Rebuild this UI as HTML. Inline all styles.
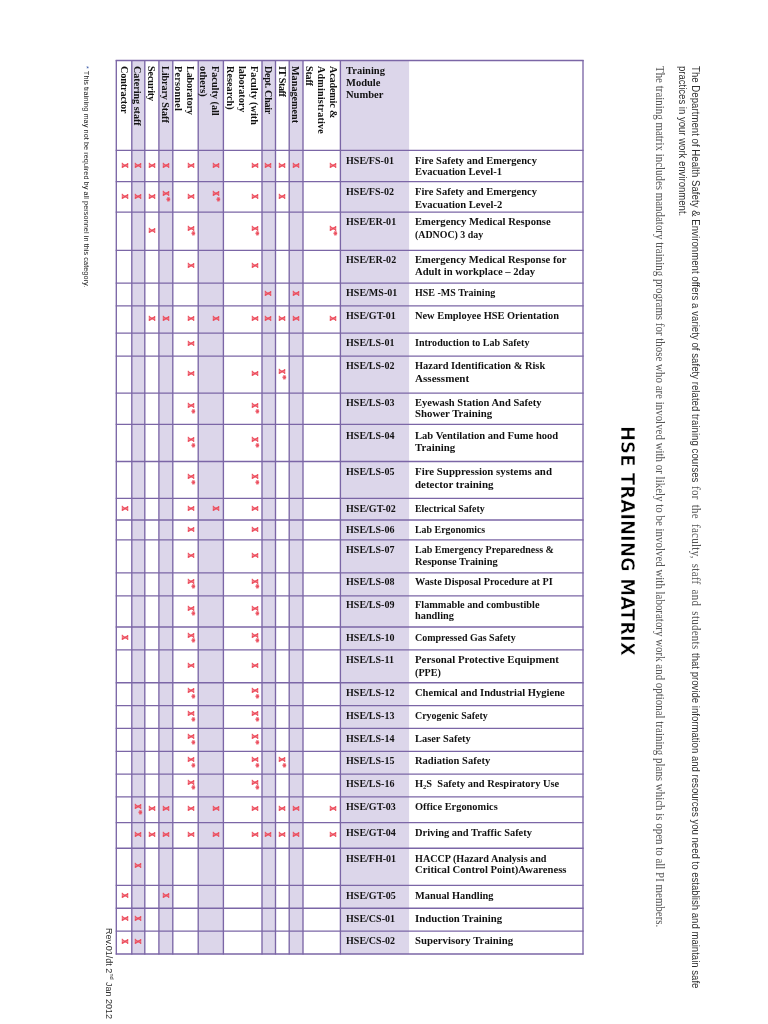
<!DOCTYPE html>
<html lang="en"><head><meta charset="utf-8"><title>HSE Training Matrix</title>
<style>
html,body{margin:0;padding:0;background:#fff}
body{width:768px;height:1024px;position:relative;overflow:hidden;font-family:"Liberation Serif",serif;color:#111}
svg.grid{position:absolute;left:0;top:0}
.v{position:absolute;writing-mode:vertical-rl;white-space:nowrap}
.hd{font-weight:bold;font-size:10.2px;line-height:11.5px;transform:scaleX(1.06);transform-origin:100% 50%;text-align:left}
.t{position:absolute;white-space:nowrap;font-weight:bold;font-size:9.7px;line-height:12px;height:12px;transform:scaleX(1.085);transform-origin:0 50%}
.t.c{transform:scaleX(1.035)}
.t sub{font-size:6px;line-height:0;vertical-align:-1.5px}
.mk{position:absolute;writing-mode:vertical-rl;white-space:nowrap;text-align:center;font-weight:bold;font-size:10px;line-height:12px;width:12px;color:#ec4c5c;-webkit-text-stroke:0.35px #ec4c5c;transform:scaleX(1.34);transform-origin:50% 50%}
.mk i{font-style:normal;font-size:9.5px;margin-top:0.6px;display:inline-block;transform:scaleX(0.72)}
.sans{font-family:"Liberation Sans",sans-serif}
.p{color:#2e2e2e;transform-origin:50% 50%;transform:scaleX(1.08)}
.ps{color:#555}
#page{position:absolute;left:0;top:0;width:768px;height:1024px;will-change:transform}
</style></head><body><div id="page">
<svg class="grid" width="768" height="1024" viewBox="0 0 768 1024">
<rect x="131.8" y="60.5" width="13.00" height="893.50" fill="#dcd6ea"/>
<rect x="158.9" y="60.5" width="13.90" height="893.50" fill="#dcd6ea"/>
<rect x="198.2" y="60.5" width="25.20" height="893.50" fill="#dcd6ea"/>
<rect x="262.0" y="60.5" width="13.50" height="893.50" fill="#dcd6ea"/>
<rect x="289.2" y="60.5" width="13.80" height="893.50" fill="#dcd6ea"/>
<rect x="340.4" y="60.5" width="68.70" height="893.50" fill="#dcd6ea"/>
<g stroke="#7b66a6" stroke-width="1.35" fill="none">
<line x1="116.3" y1="59.9" x2="116.3" y2="954.6"/>
<line x1="131.8" y1="59.9" x2="131.8" y2="954.6"/>
<line x1="144.8" y1="59.9" x2="144.8" y2="954.6"/>
<line x1="158.9" y1="59.9" x2="158.9" y2="954.6"/>
<line x1="172.8" y1="59.9" x2="172.8" y2="954.6"/>
<line x1="198.2" y1="59.9" x2="198.2" y2="954.6"/>
<line x1="223.4" y1="59.9" x2="223.4" y2="954.6"/>
<line x1="262.0" y1="59.9" x2="262.0" y2="954.6"/>
<line x1="275.5" y1="59.9" x2="275.5" y2="954.6"/>
<line x1="289.2" y1="59.9" x2="289.2" y2="954.6"/>
<line x1="303.0" y1="59.9" x2="303.0" y2="954.6"/>
<line x1="340.4" y1="59.9" x2="340.4" y2="954.6"/>
<line x1="583.0" y1="59.9" x2="583.0" y2="954.6"/>
<line x1="115.7" y1="60.5" x2="583.6" y2="60.5"/>
<line x1="115.7" y1="150.3" x2="583.6" y2="150.3"/>
<line x1="115.7" y1="181.6" x2="583.6" y2="181.6"/>
<line x1="115.7" y1="212.1" x2="583.6" y2="212.1"/>
<line x1="115.7" y1="250.4" x2="583.6" y2="250.4"/>
<line x1="115.7" y1="283.1" x2="583.6" y2="283.1"/>
<line x1="115.7" y1="305.9" x2="583.6" y2="305.9"/>
<line x1="115.7" y1="333.1" x2="583.6" y2="333.1"/>
<line x1="115.7" y1="356.1" x2="583.6" y2="356.1"/>
<line x1="115.7" y1="393.1" x2="583.6" y2="393.1"/>
<line x1="115.7" y1="424.4" x2="583.6" y2="424.4"/>
<line x1="115.7" y1="461.5" x2="583.6" y2="461.5"/>
<line x1="115.7" y1="498.4" x2="583.6" y2="498.4"/>
<line x1="115.7" y1="520.0" x2="583.6" y2="520.0"/>
<line x1="115.7" y1="539.9" x2="583.6" y2="539.9"/>
<line x1="115.7" y1="572.9" x2="583.6" y2="572.9"/>
<line x1="115.7" y1="595.9" x2="583.6" y2="595.9"/>
<line x1="115.7" y1="627.0" x2="583.6" y2="627.0"/>
<line x1="115.7" y1="649.9" x2="583.6" y2="649.9"/>
<line x1="115.7" y1="682.7" x2="583.6" y2="682.7"/>
<line x1="115.7" y1="705.6" x2="583.6" y2="705.6"/>
<line x1="115.7" y1="728.4" x2="583.6" y2="728.4"/>
<line x1="115.7" y1="751.3" x2="583.6" y2="751.3"/>
<line x1="115.7" y1="774.1" x2="583.6" y2="774.1"/>
<line x1="115.7" y1="796.9" x2="583.6" y2="796.9"/>
<line x1="115.7" y1="822.6" x2="583.6" y2="822.6"/>
<line x1="115.7" y1="848.2" x2="583.6" y2="848.2"/>
<line x1="115.7" y1="885.4" x2="583.6" y2="885.4"/>
<line x1="115.7" y1="908.2" x2="583.6" y2="908.2"/>
<line x1="115.7" y1="931.1" x2="583.6" y2="931.1"/>
<line x1="115.7" y1="954.0" x2="583.6" y2="954.0"/>
</g></svg>
<div class="v hd" style="right:637.30px;top:65.60px"><span style="display:block;letter-spacing:-0.116px">Contractor</span></div>
<div class="v hd" style="right:624.30px;top:65.60px"><span style="display:block;letter-spacing:-0.040px">Catering staff</span></div>
<div class="v hd" style="right:610.20px;top:65.60px"><span style="display:block;letter-spacing:-0.152px">Security</span></div>
<div class="v hd" style="right:596.30px;top:65.60px"><span style="display:block;letter-spacing:-0.101px">Library Staff</span></div>
<div class="v hd" style="right:570.90px;top:65.60px"><span style="display:block;letter-spacing:-0.167px">Laboratory</span><span style="display:block;letter-spacing:0.220px">Personnel</span></div>
<div class="v hd" style="right:545.70px;top:65.60px"><span style="display:block;letter-spacing:0.015px">Faculty (all</span><span style="display:block;letter-spacing:0.034px">others)</span></div>
<div class="v hd" style="right:507.10px;top:65.60px"><span style="display:block;letter-spacing:0.076px">Faculty (with</span><span style="display:block;letter-spacing:-0.001px">laboratory</span><span style="display:block;letter-spacing:0.034px">Research)</span></div>
<div class="v hd" style="right:493.60px;top:65.60px"><span style="display:block;letter-spacing:-0.318px">Dept. Chair</span></div>
<div class="v hd" style="right:479.90px;top:65.60px"><span style="display:block;letter-spacing:-0.445px">IT Staff</span></div>
<div class="v hd" style="right:466.10px;top:65.60px"><span style="display:block;letter-spacing:0.004px">Management</span></div>
<div class="v hd" style="right:428.70px;top:65.60px"><span style="display:block;letter-spacing:-0.185px">Academic &amp;</span><span style="display:block;letter-spacing:0.167px">Administrative</span><span style="display:block;letter-spacing:-0.248px">Staff</span></div>
<div class="t" style="left:345.8px;top:64.90px">Training</div>
<div class="t" style="left:345.8px;top:76.90px">Module</div>
<div class="t" style="left:345.8px;top:88.90px">Number</div>
<div class="t c" style="left:345.6px;top:154.90px">HSE/FS-01</div>
<div class="t" style="left:414.9px;top:154.90px;transform:scaleX(1.0834)">Fire Safety and Emergency</div>
<div class="t" style="left:414.9px;top:165.90px;transform:scaleX(1.0879)">Evacuation Level-1</div>
<div class="mk" style="left:119.50px;top:149.50px;height:31.30px">x</div>
<div class="mk" style="left:132.50px;top:149.50px;height:31.30px">x</div>
<div class="mk" style="left:146.60px;top:149.50px;height:31.30px">x</div>
<div class="mk" style="left:160.50px;top:149.50px;height:31.30px">x</div>
<div class="mk" style="left:185.90px;top:149.50px;height:31.30px">x</div>
<div class="mk" style="left:211.10px;top:149.50px;height:31.30px">x</div>
<div class="mk" style="left:249.70px;top:149.50px;height:31.30px">x</div>
<div class="mk" style="left:263.20px;top:149.50px;height:31.30px">x</div>
<div class="mk" style="left:276.90px;top:149.50px;height:31.30px">x</div>
<div class="mk" style="left:290.70px;top:149.50px;height:31.30px">x</div>
<div class="mk" style="left:328.10px;top:149.50px;height:31.30px">x</div>
<div class="t c" style="left:345.6px;top:185.90px">HSE/FS-02</div>
<div class="t" style="left:414.9px;top:185.90px;transform:scaleX(1.0834)">Fire Safety and Emergency</div>
<div class="t" style="left:414.9px;top:198.90px;transform:scaleX(1.0911)">Evacuation Level-2</div>
<div class="mk" style="left:119.50px;top:180.80px;height:30.50px">x</div>
<div class="mk" style="left:132.50px;top:180.80px;height:30.50px">x</div>
<div class="mk" style="left:146.60px;top:180.80px;height:30.50px">x</div>
<div class="mk" style="left:160.50px;top:181.10px;height:30.50px">x<i>*</i></div>
<div class="mk" style="left:185.90px;top:180.80px;height:30.50px">x</div>
<div class="mk" style="left:211.10px;top:181.10px;height:30.50px">x<i>*</i></div>
<div class="mk" style="left:249.70px;top:180.80px;height:30.50px">x</div>
<div class="mk" style="left:276.90px;top:180.80px;height:30.50px">x</div>
<div class="t c" style="left:345.6px;top:215.90px">HSE/ER-01</div>
<div class="t" style="left:414.9px;top:215.90px;transform:scaleX(1.0964)">Emergency Medical Response</div>
<div class="t" style="left:414.9px;top:228.90px;transform:scaleX(1.0220)">(ADNOC) 3 day</div>
<div class="mk" style="left:146.60px;top:211.30px;height:38.30px">x</div>
<div class="mk" style="left:185.90px;top:211.60px;height:38.30px">x<i>*</i></div>
<div class="mk" style="left:249.70px;top:211.60px;height:38.30px">x<i>*</i></div>
<div class="mk" style="left:328.10px;top:211.60px;height:38.30px">x<i>*</i></div>
<div class="t c" style="left:345.6px;top:253.90px">HSE/ER-02</div>
<div class="t" style="left:414.9px;top:253.90px;transform:scaleX(1.0930)">Emergency Medical Response for</div>
<div class="t" style="left:414.9px;top:265.90px;transform:scaleX(1.0999)">Adult in workplace – 2day</div>
<div class="mk" style="left:185.90px;top:249.60px;height:32.70px">x</div>
<div class="mk" style="left:249.70px;top:249.60px;height:32.70px">x</div>
<div class="t c" style="left:345.6px;top:286.90px">HSE/MS-01</div>
<div class="t" style="left:414.9px;top:286.90px;transform:scaleX(1.0321)">HSE -MS Training</div>
<div class="mk" style="left:263.20px;top:282.30px;height:22.80px">x</div>
<div class="mk" style="left:290.70px;top:282.30px;height:22.80px">x</div>
<div class="t c" style="left:345.6px;top:309.90px">HSE/GT-01</div>
<div class="t" style="left:414.9px;top:309.90px;transform:scaleX(1.0720)">New Employee HSE Orientation</div>
<div class="mk" style="left:146.60px;top:305.10px;height:27.20px">x</div>
<div class="mk" style="left:160.50px;top:305.10px;height:27.20px">x</div>
<div class="mk" style="left:185.90px;top:305.10px;height:27.20px">x</div>
<div class="mk" style="left:211.10px;top:305.10px;height:27.20px">x</div>
<div class="mk" style="left:249.70px;top:305.10px;height:27.20px">x</div>
<div class="mk" style="left:263.20px;top:305.10px;height:27.20px">x</div>
<div class="mk" style="left:276.90px;top:305.10px;height:27.20px">x</div>
<div class="mk" style="left:290.70px;top:305.10px;height:27.20px">x</div>
<div class="mk" style="left:328.10px;top:305.10px;height:27.20px">x</div>
<div class="t c" style="left:345.6px;top:336.90px">HSE/LS-01</div>
<div class="t" style="left:414.9px;top:336.90px;transform:scaleX(1.0363)">Introduction to Lab Safety</div>
<div class="mk" style="left:185.90px;top:332.30px;height:23.00px">x</div>
<div class="t c" style="left:345.6px;top:359.90px">HSE/LS-02</div>
<div class="t" style="left:414.9px;top:359.90px;transform:scaleX(1.0727)">Hazard Identification &amp; Risk</div>
<div class="t" style="left:414.9px;top:372.90px;transform:scaleX(1.1444)">Assessment</div>
<div class="mk" style="left:185.90px;top:355.30px;height:37.00px">x</div>
<div class="mk" style="left:249.70px;top:355.30px;height:37.00px">x</div>
<div class="mk" style="left:276.90px;top:355.60px;height:37.00px">x<i>*</i></div>
<div class="t c" style="left:345.6px;top:396.90px">HSE/LS-03</div>
<div class="t" style="left:414.9px;top:396.90px;transform:scaleX(1.0850)">Eyewash Station And Safety</div>
<div class="t" style="left:414.9px;top:407.90px;transform:scaleX(1.1158)">Shower Training</div>
<div class="mk" style="left:185.90px;top:392.60px;height:31.30px">x<i>*</i></div>
<div class="mk" style="left:249.70px;top:392.60px;height:31.30px">x<i>*</i></div>
<div class="t c" style="left:345.6px;top:429.90px">HSE/LS-04</div>
<div class="t" style="left:414.9px;top:429.90px;transform:scaleX(1.0901)">Lab Ventilation and Fume hood</div>
<div class="t" style="left:414.9px;top:441.90px;transform:scaleX(1.1201)">Training</div>
<div class="mk" style="left:185.90px;top:423.90px;height:37.10px">x<i>*</i></div>
<div class="mk" style="left:249.70px;top:423.90px;height:37.10px">x<i>*</i></div>
<div class="t c" style="left:345.6px;top:465.90px">HSE/LS-05</div>
<div class="t" style="left:414.9px;top:465.90px;transform:scaleX(1.1215)">Fire Suppression systems and</div>
<div class="t" style="left:414.9px;top:478.90px;transform:scaleX(1.1285)">detector training</div>
<div class="mk" style="left:185.90px;top:461.00px;height:36.90px">x<i>*</i></div>
<div class="mk" style="left:249.70px;top:461.00px;height:36.90px">x<i>*</i></div>
<div class="t c" style="left:345.6px;top:502.90px">HSE/GT-02</div>
<div class="t" style="left:414.9px;top:502.90px;transform:scaleX(1.0241)">Electrical Safety</div>
<div class="mk" style="left:119.50px;top:497.60px;height:21.60px">x</div>
<div class="mk" style="left:185.90px;top:497.60px;height:21.60px">x</div>
<div class="mk" style="left:211.10px;top:497.60px;height:21.60px">x</div>
<div class="mk" style="left:249.70px;top:497.60px;height:21.60px">x</div>
<div class="t c" style="left:345.6px;top:523.90px">HSE/LS-06</div>
<div class="t" style="left:414.9px;top:523.90px;transform:scaleX(1.0227)">Lab Ergonomics</div>
<div class="mk" style="left:185.90px;top:519.20px;height:19.90px">x</div>
<div class="mk" style="left:249.70px;top:519.20px;height:19.90px">x</div>
<div class="t c" style="left:345.6px;top:543.90px">HSE/LS-07</div>
<div class="t" style="left:414.9px;top:543.90px;transform:scaleX(1.0334)">Lab Emergency Preparedness &amp;</div>
<div class="t" style="left:414.9px;top:555.90px;transform:scaleX(1.0756)">Response Training</div>
<div class="mk" style="left:185.90px;top:539.10px;height:33.00px">x</div>
<div class="mk" style="left:249.70px;top:539.10px;height:33.00px">x</div>
<div class="t c" style="left:345.6px;top:575.90px">HSE/LS-08</div>
<div class="t" style="left:414.9px;top:575.90px;transform:scaleX(1.0558)">Waste Disposal Procedure at PI</div>
<div class="mk" style="left:185.90px;top:572.40px;height:23.00px">x<i>*</i></div>
<div class="mk" style="left:249.70px;top:572.40px;height:23.00px">x<i>*</i></div>
<div class="t c" style="left:345.6px;top:598.90px">HSE/LS-09</div>
<div class="t" style="left:414.9px;top:598.90px;transform:scaleX(1.0606)">Flammable and combustible</div>
<div class="t" style="left:414.9px;top:609.90px;transform:scaleX(1.0635)">handling</div>
<div class="mk" style="left:185.90px;top:595.40px;height:31.10px">x<i>*</i></div>
<div class="mk" style="left:249.70px;top:595.40px;height:31.10px">x<i>*</i></div>
<div class="t c" style="left:345.6px;top:631.90px">HSE/LS-10</div>
<div class="t" style="left:414.9px;top:631.90px;transform:scaleX(1.0298)">Compressed Gas Safety</div>
<div class="mk" style="left:119.50px;top:626.20px;height:22.90px">x</div>
<div class="mk" style="left:185.90px;top:626.50px;height:22.90px">x<i>*</i></div>
<div class="mk" style="left:249.70px;top:626.50px;height:22.90px">x<i>*</i></div>
<div class="t c" style="left:345.6px;top:653.90px">HSE/LS-11</div>
<div class="t" style="left:414.9px;top:653.90px;transform:scaleX(1.1160)">Personal Protective Equipment</div>
<div class="t" style="left:414.9px;top:666.90px;transform:scaleX(1.0485)">(PPE)</div>
<div class="mk" style="left:185.90px;top:649.10px;height:32.80px">x</div>
<div class="mk" style="left:249.70px;top:649.10px;height:32.80px">x</div>
<div class="t c" style="left:345.6px;top:686.90px">HSE/LS-12</div>
<div class="t" style="left:414.9px;top:686.90px;transform:scaleX(1.0885)">Chemical and Industrial Hygiene</div>
<div class="mk" style="left:185.90px;top:682.20px;height:22.90px">x<i>*</i></div>
<div class="mk" style="left:249.70px;top:682.20px;height:22.90px">x<i>*</i></div>
<div class="t c" style="left:345.6px;top:709.90px">HSE/LS-13</div>
<div class="t" style="left:414.9px;top:709.90px;transform:scaleX(1.0273)">Cryogenic Safety</div>
<div class="mk" style="left:185.90px;top:705.10px;height:22.80px">x<i>*</i></div>
<div class="mk" style="left:249.70px;top:705.10px;height:22.80px">x<i>*</i></div>
<div class="t c" style="left:345.6px;top:732.90px">HSE/LS-14</div>
<div class="t" style="left:414.9px;top:732.90px;transform:scaleX(1.0763)">Laser Safety</div>
<div class="mk" style="left:185.90px;top:727.90px;height:22.90px">x<i>*</i></div>
<div class="mk" style="left:249.70px;top:727.90px;height:22.90px">x<i>*</i></div>
<div class="t c" style="left:345.6px;top:754.90px">HSE/LS-15</div>
<div class="t" style="left:414.9px;top:754.90px;transform:scaleX(1.0871)">Radiation Safety</div>
<div class="mk" style="left:185.90px;top:750.80px;height:22.80px">x<i>*</i></div>
<div class="mk" style="left:249.70px;top:750.80px;height:22.80px">x<i>*</i></div>
<div class="mk" style="left:276.90px;top:750.80px;height:22.80px">x<i>*</i></div>
<div class="t c" style="left:345.6px;top:777.90px">HSE/LS-16</div>
<div class="t" style="left:414.9px;top:777.90px;transform:scaleX(1.0756)">H<sub>2</sub>S&nbsp; Safety and Respiratory Use</div>
<div class="mk" style="left:185.90px;top:773.60px;height:22.80px">x<i>*</i></div>
<div class="mk" style="left:249.70px;top:773.60px;height:22.80px">x<i>*</i></div>
<div class="t c" style="left:345.6px;top:800.90px">HSE/GT-03</div>
<div class="t" style="left:414.9px;top:800.90px;transform:scaleX(1.0710)">Office Ergonomics</div>
<div class="mk" style="left:132.50px;top:796.40px;height:25.70px">x<i>*</i></div>
<div class="mk" style="left:146.60px;top:796.10px;height:25.70px">x</div>
<div class="mk" style="left:160.50px;top:796.10px;height:25.70px">x</div>
<div class="mk" style="left:185.90px;top:796.10px;height:25.70px">x</div>
<div class="mk" style="left:211.10px;top:796.10px;height:25.70px">x</div>
<div class="mk" style="left:249.70px;top:796.10px;height:25.70px">x</div>
<div class="mk" style="left:276.90px;top:796.10px;height:25.70px">x</div>
<div class="mk" style="left:290.70px;top:796.10px;height:25.70px">x</div>
<div class="mk" style="left:328.10px;top:796.10px;height:25.70px">x</div>
<div class="t c" style="left:345.6px;top:826.90px">HSE/GT-04</div>
<div class="t" style="left:414.9px;top:826.90px;transform:scaleX(1.0766)">Driving and Traffic Safety</div>
<div class="mk" style="left:132.50px;top:821.80px;height:25.60px">x</div>
<div class="mk" style="left:146.60px;top:821.80px;height:25.60px">x</div>
<div class="mk" style="left:160.50px;top:821.80px;height:25.60px">x</div>
<div class="mk" style="left:185.90px;top:821.80px;height:25.60px">x</div>
<div class="mk" style="left:211.10px;top:821.80px;height:25.60px">x</div>
<div class="mk" style="left:249.70px;top:821.80px;height:25.60px">x</div>
<div class="mk" style="left:263.20px;top:821.80px;height:25.60px">x</div>
<div class="mk" style="left:276.90px;top:821.80px;height:25.60px">x</div>
<div class="mk" style="left:290.70px;top:821.80px;height:25.60px">x</div>
<div class="mk" style="left:328.10px;top:821.80px;height:25.60px">x</div>
<div class="t c" style="left:345.6px;top:852.90px">HSE/FH-01</div>
<div class="t" style="left:414.9px;top:852.90px;transform:scaleX(1.0458)">HACCP (Hazard Analysis and</div>
<div class="t" style="left:414.9px;top:863.90px;transform:scaleX(1.0993)">Critical Control Point)Awareness</div>
<div class="mk" style="left:132.50px;top:847.40px;height:37.20px">x</div>
<div class="t c" style="left:345.6px;top:889.90px">HSE/GT-05</div>
<div class="t" style="left:414.9px;top:889.90px;transform:scaleX(1.0673)">Manual Handling</div>
<div class="mk" style="left:119.50px;top:884.60px;height:22.80px">x</div>
<div class="mk" style="left:160.50px;top:884.60px;height:22.80px">x</div>
<div class="t c" style="left:345.6px;top:912.90px">HSE/CS-01</div>
<div class="t" style="left:414.9px;top:912.90px;transform:scaleX(1.1104)">Induction Training</div>
<div class="mk" style="left:119.50px;top:907.40px;height:22.90px">x</div>
<div class="mk" style="left:132.50px;top:907.40px;height:22.90px">x</div>
<div class="t c" style="left:345.6px;top:934.90px">HSE/CS-02</div>
<div class="t" style="left:414.9px;top:934.90px;transform:scaleX(1.1133)">Supervisory Training</div>
<div class="mk" style="left:119.50px;top:930.30px;height:22.90px">x</div>
<div class="mk" style="left:132.50px;top:930.30px;height:22.90px">x</div>
<div class="v sans" id="title" style="left:615px;top:426px;letter-spacing:0.15px;-webkit-text-stroke:0.55px #fff;font-weight:bold;font-size:17.9px;font-family:'DejaVu Sans','Liberation Sans',sans-serif;color:#000;line-height:24px;transform:scaleX(1.06)">HSE TRAINING MATRIX</div>
<div class="v sans p" id="p1a" style="left:689.3px;top:65.6px;font-size:9.6px;line-height:13px;letter-spacing:0.04px">The Department of Health Safety &amp; Environment offers a variety of safety related training courses</div>
<div class="v p ps" id="p1b" style="left:689.3px;top:486px;font-size:10.9px;line-height:13px;letter-spacing:0.3px;word-spacing:2.1px">for the faculty, staff and students</div>
<div class="v sans p" id="p1c" style="left:689.3px;top:652.5px;font-size:9.6px;line-height:13px">that provide information and resources you need to establish and maintain safe</div>
<div class="v sans p" id="p1d" style="left:675.7px;top:65.6px;font-size:9.6px;line-height:13px;letter-spacing:-0.02px">practices in your work environment.</div>
<div class="v p ps" id="p2" style="transform:scaleX(1.12);left:653.2px;top:66px;font-size:10.9px;line-height:13px;letter-spacing:0.012px">The training matrix includes mandatory training programs for those who are involved with or likely to be involved with laboratory work and optional training plans which is open to all PI members.</div>
<div class="v sans p" id="fn" style="color:#222;left:80.6px;top:65.6px;font-size:7.3px;line-height:10px;letter-spacing:0.06px"><span style="color:#3b5aa8">*</span> This training may not be required by all personnel in this category.</div>
<div class="v sans p" id="rev" style="left:103px;top:927.5px;font-size:9px;line-height:12px">Rev.01/dt 2<sup style="font-size:5.5px;line-height:0;vertical-align:3px">nd</sup> Jan 2012</div>
</div></body></html>
